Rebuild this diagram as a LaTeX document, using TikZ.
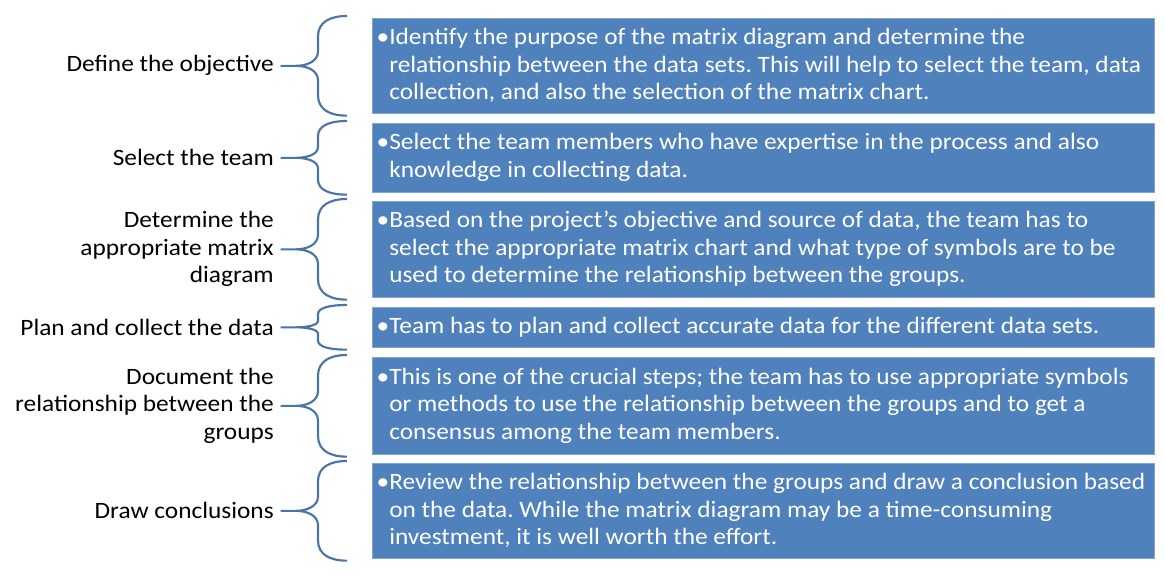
\documentclass[tikz,border=0pt]{standalone}
\usepackage{fontspec}
\setmainfont{Carlito}[FakeStretch=1.08]
\usetikzlibrary{calc}
\frenchspacing
\definecolor{boxblue}{HTML}{4F81BD}
\definecolor{bracecol}{HTML}{4A74A8}
\tikzset{
  boxrect/.style={fill=boxblue, draw=boxblue!70!white, line width=0.5pt, anchor=north west, inner sep=0pt, minimum width=586.5pt},
  boxtext/.style={anchor=west, align=left, text=white, inner sep=0pt, font=\fontsize{17.6}{20.6}\selectfont},
  lab/.style={anchor=east, align=right, text=black, inner sep=0pt, font=\fontsize{17.6}{20.6}\selectfont},
  bracestyle/.style={draw=bracecol, line width=1.6pt, line join=round}
}
\newcommand\mybrc[2]{%
  \draw[bracestyle] let \p1=(#2.north west), \p2=(#2.south west), \p3=(#1.east),
    \n1={0.5*(\y1-\y2)+1.5pt}, \n2={0.5*(\y1+\y2)} in
    (\x1-18.75pt,\n2+\n1) .. controls (\x1-31.5pt,\n2+\n1) and (\x1-40.5pt,\n2+0.88*\n1) .. (\x1-40.5pt,\n2+0.59*\n1)
    -- (\x1-40.5pt,\n2+0.29*\n1) .. controls (\x1-40.5pt,\n2+0.08*\n1) and (\x1-49.5pt,\n2) .. (\x1-57pt,\n2)
    .. controls (\x1-49.5pt,\n2) and (\x1-40.5pt,\n2-0.08*\n1) .. (\x1-40.5pt,\n2-0.29*\n1)
    -- (\x1-40.5pt,\n2-0.59*\n1) .. controls (\x1-40.5pt,\n2-0.88*\n1) and (\x1-31.5pt,\n2-\n1) .. (\x1-18.75pt,\n2-\n1)
    (\x1-57pt,\n2) -- (\x3+5pt,\n2);
}
\begin{document}
\begin{tikzpicture}[x=0.75pt,y=-0.75pt]
\useasboundingbox (0,0) rectangle (1165,577);
% boxes
\node[boxrect, minimum height=71.25pt] (b1) at (372,18) {};
\node[boxrect, minimum height=51.75pt] (b2) at (372,123) {};
\node[boxrect, minimum height=72pt] (b3) at (372,201) {};
\node[boxrect, minimum height=30pt] (b4) at (372,307) {};
\node[boxrect, minimum height=72.75pt] (b5) at (372,357) {};
\node[boxrect, minimum height=71.25pt] (b6) at (372,463) {};
% box texts
\node[boxtext] (t1) at (389,65.5) {\llap{•}Identify the purpose of the matrix diagram and determine the\\relationship between the data sets. This will help to select the team, data\\collection, and also the selection of the matrix chart.};
\node[boxtext] (t2) at (389,157.5) {\llap{•}Select the team members who have expertise in the process and also\\knowledge in collecting data.};
\node[boxtext] (t3) at (389,249) {\llap{•}Based on the project’s objective and source of data, the team has to\\select the appropriate matrix chart and what type of symbols are to be\\used to determine the relationship between the groups.};
\node[boxtext] (t4) at (389,327) {\llap{•}Team has to plan and collect accurate data for the different data sets.};
\node[boxtext] (t5) at (389,405.5) {\llap{•}This is one of the crucial steps; the team has to use appropriate symbols\\or methods to use the relationship between the groups and to get a\\consensus among the team members.};
\node[boxtext] (t6) at (389,510.5) {\llap{•}Review the relationship between the groups and draw a conclusion based\\on the data. While the matrix diagram may be a time-consuming\\investment, it is well worth the effort.};
% labels
\node[lab] (l1) at (274,65.5) {Define the objective};
\node[lab] (l2) at (274,157.5) {Select the team};
\node[lab] (l3) at (274,249) {Determine the\\appropriate matrix\\diagram};
\node[lab] (l4) at (274,327) {Plan and collect the data};
\node[lab] (l5) at (274,405.5) {Document the\\relationship between the\\groups};
\node[lab] (l6) at (274,510.5) {Draw conclusions};
% braces
\mybrc{l1}{b1}
\mybrc{l2}{b2}
\mybrc{l3}{b3}
\mybrc{l4}{b4}
\mybrc{l5}{b5}
\mybrc{l6}{b6}
\end{tikzpicture}
\end{document}
